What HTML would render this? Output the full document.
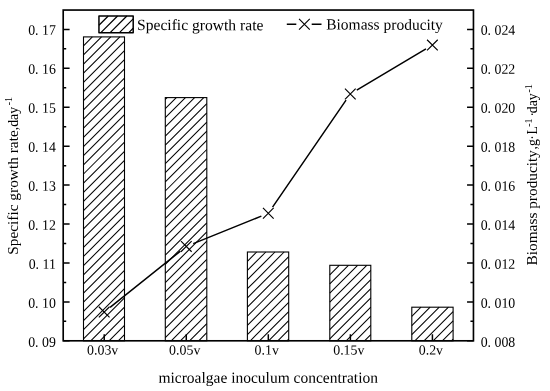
<!DOCTYPE html>
<html lang="en"><head><meta charset="utf-8"><title>Chart</title>
<style>html,body{margin:0;padding:0;background:#fff}body{width:550px;height:391px;overflow:hidden}</style></head>
<body>
<svg width="550" height="391" viewBox="0 0 550 391" style="display:block">
<rect x="0" y="0" width="550" height="391" fill="#fff"/>
<path d="M83.50 45.76L92.36 36.90M83.50 54.92L101.52 36.90M83.50 64.08L110.68 36.90M83.50 73.24L119.84 36.90M83.50 82.40L124.50 41.40M83.50 91.56L124.50 50.56M83.50 100.72L124.50 59.72M83.50 109.88L124.50 68.88M83.50 119.04L124.50 78.04M83.50 128.20L124.50 87.20M83.50 137.36L124.50 96.36M83.50 146.52L124.50 105.52M83.50 155.68L124.50 114.68M83.50 164.84L124.50 123.84M83.50 174.00L124.50 133.00M83.50 183.16L124.50 142.16M83.50 192.32L124.50 151.32M83.50 201.48L124.50 160.48M83.50 210.64L124.50 169.64M83.50 219.80L124.50 178.80M83.50 228.96L124.50 187.96M83.50 238.12L124.50 197.12M83.50 247.28L124.50 206.28M83.50 256.44L124.50 215.44M83.50 265.60L124.50 224.60M83.50 274.76L124.50 233.76M83.50 283.92L124.50 242.92M83.50 293.08L124.50 252.08M83.50 302.24L124.50 261.24M83.50 311.40L124.50 270.40M83.50 320.56L124.50 279.56M83.50 329.72L124.50 288.72M83.50 338.88L124.50 297.88M90.74 340.80L124.50 307.04M99.90 340.80L124.50 316.20M109.06 340.80L124.50 325.36M118.22 340.80L124.50 334.52" stroke="#000" stroke-width="1.05" fill="none"/>
<rect x="83.5" y="36.9" width="41.00" height="303.90" fill="none" stroke="#000" stroke-width="1.1"/>
<path d="M165.30 99.40L167.10 97.60M165.30 108.56L176.26 97.60M165.30 117.72L185.42 97.60M165.30 126.88L194.58 97.60M165.30 136.04L203.74 97.60M165.30 145.20L206.80 103.70M165.30 154.36L206.80 112.86M165.30 163.52L206.80 122.02M165.30 172.68L206.80 131.18M165.30 181.84L206.80 140.34M165.30 191.00L206.80 149.50M165.30 200.16L206.80 158.66M165.30 209.32L206.80 167.82M165.30 218.48L206.80 176.98M165.30 227.64L206.80 186.14M165.30 236.80L206.80 195.30M165.30 245.96L206.80 204.46M165.30 255.12L206.80 213.62M165.30 264.28L206.80 222.78M165.30 273.44L206.80 231.94M165.30 282.60L206.80 241.10M165.30 291.76L206.80 250.26M165.30 300.92L206.80 259.42M165.30 310.08L206.80 268.58M165.30 319.24L206.80 277.74M165.30 328.40L206.80 286.90M165.30 337.56L206.80 296.06M171.22 340.80L206.80 305.22M180.38 340.80L206.80 314.38M189.54 340.80L206.80 323.54M198.70 340.80L206.80 332.70" stroke="#000" stroke-width="1.05" fill="none"/>
<rect x="165.3" y="97.6" width="41.50" height="243.20" fill="none" stroke="#000" stroke-width="1.1"/>
<path d="M247.40 261.26L256.66 252.00M247.40 270.42L265.82 252.00M247.40 279.58L274.98 252.00M247.40 288.74L284.14 252.00M247.40 297.90L288.70 256.60M247.40 307.06L288.70 265.76M247.40 316.22L288.70 274.92M247.40 325.38L288.70 284.08M247.40 334.54L288.70 293.24M250.30 340.80L288.70 302.40M259.46 340.80L288.70 311.56M268.62 340.80L288.70 320.72M277.78 340.80L288.70 329.88M286.94 340.80L288.70 339.04" stroke="#000" stroke-width="1.05" fill="none"/>
<rect x="247.4" y="252.0" width="41.30" height="88.80" fill="none" stroke="#000" stroke-width="1.1"/>
<path d="M329.80 274.76L339.26 265.30M329.80 283.92L348.42 265.30M329.80 293.08L357.58 265.30M329.80 302.24L366.74 265.30M329.80 311.40L370.80 270.40M329.80 320.56L370.80 279.56M329.80 329.72L370.80 288.72M329.80 338.88L370.80 297.88M337.04 340.80L370.80 307.04M346.20 340.80L370.80 316.20M355.36 340.80L370.80 325.36M364.52 340.80L370.80 334.52" stroke="#000" stroke-width="1.05" fill="none"/>
<rect x="329.8" y="265.3" width="41.00" height="75.50" fill="none" stroke="#000" stroke-width="1.1"/>
<path d="M411.80 316.36L420.96 307.20M411.80 325.52L430.12 307.20M411.80 334.68L439.28 307.20M414.84 340.80L448.44 307.20M424.00 340.80L453.10 311.70M433.16 340.80L453.10 320.86M442.32 340.80L453.10 330.02M451.48 340.80L453.10 339.18" stroke="#000" stroke-width="1.05" fill="none"/>
<rect x="411.8" y="307.2" width="41.30" height="33.60" fill="none" stroke="#000" stroke-width="1.1"/>
<rect x="63.2" y="10.05" width="410.25" height="330.75" fill="none" stroke="#000" stroke-width="1.65"/>
<path d="M63.2 340.80h6.4M473.45 340.80h-6.4M63.2 321.34h3.0M473.45 321.34h-3.0M63.2 301.88h6.4M473.45 301.88h-6.4M63.2 282.41h3.0M473.45 282.41h-3.0M63.2 262.95h6.4M473.45 262.95h-6.4M63.2 243.49h3.0M473.45 243.49h-3.0M63.2 224.03h6.4M473.45 224.03h-6.4M63.2 204.56h3.0M473.45 204.56h-3.0M63.2 185.10h6.4M473.45 185.10h-6.4M63.2 165.64h3.0M473.45 165.64h-3.0M63.2 146.17h6.4M473.45 146.17h-6.4M63.2 126.71h3.0M473.45 126.71h-3.0M63.2 107.25h6.4M473.45 107.25h-6.4M63.2 87.79h3.0M473.45 87.79h-3.0M63.2 68.32h6.4M473.45 68.32h-6.4M63.2 48.86h3.0M473.45 48.86h-3.0M63.2 29.40h6.4M473.45 29.40h-6.4M104.22 340.8v-6.6M186.27 340.8v-6.6M268.32 340.8v-6.6M350.38 340.8v-6.6M432.42 340.8v-6.6" stroke="#000" stroke-width="1.5" fill="none"/>
<path d="M110.06 307.41L180.44 251.09M193.25 243.59L261.35 216.11M272.55 207.12L346.05 100.18M356.74 90.16L425.96 48.94" stroke="#000" stroke-width="1.5" fill="none"/>
<path d="M98.85 306.75L109.55 317.45M98.85 317.45L109.55 306.75M180.95 241.05L191.65 251.75M180.95 251.75L191.65 241.05M262.95 207.95L273.65 218.65M262.95 218.65L273.65 207.95M344.95 88.65L355.65 99.35M344.95 99.35L355.65 88.65M427.05 39.75L437.75 50.45M427.05 50.45L437.75 39.75M299.05 18.95L309.75 29.65M299.05 29.65L309.75 18.95" stroke="#000" stroke-width="1.15" fill="none"/>
<path d="M286.8 24.3H296.3M311.7 24.3H321.5" stroke="#000" stroke-width="1.5" fill="none"/>
<path d="M98.95 25.25L108.25 15.95M100.85 32.65L117.55 15.95M110.15 32.65L126.85 15.95M119.45 32.65L133.20 18.90M128.75 32.65L133.20 28.20" stroke="#000" stroke-width="1.25" fill="none"/>
<rect x="98.95" y="15.95" width="34.25" height="16.70" fill="none" stroke="#000" stroke-width="1.5" stroke-linejoin="round"/>
<g style="font-family:'Liberation Serif','Noto Serif CJK SC',serif" fill="#000">
<text transform="translate(137.00 30.10) rotate(0.03)" font-size="15.6">Specific growth rate</text>
<text transform="translate(326.20 29.60) rotate(0.03)" font-size="15.5">Biomass producity</text>
<text transform="translate(268.20 382.80) rotate(0.03)" font-size="15.5" text-anchor="middle">microalgae inoculum concentration</text>
<text transform="translate(102.67 354.50) rotate(0.03)" font-size="13.9" text-anchor="middle">0.03v</text>
<text transform="translate(184.72 354.50) rotate(0.03)" font-size="13.9" text-anchor="middle">0.05v</text>
<text transform="translate(266.77 354.50) rotate(0.03)" font-size="13.9" text-anchor="middle">0.1v</text>
<text transform="translate(348.82 354.50) rotate(0.03)" font-size="13.9" text-anchor="middle">0.15v</text>
<text transform="translate(430.87 354.50) rotate(0.03)" font-size="13.9" text-anchor="middle">0.2v</text>
<text transform="translate(55.80 346.65) rotate(0.03) scale(0.955 1)" font-size="14.5" text-anchor="end">0. 09</text>
<text transform="translate(480.70 346.65) rotate(0.03) scale(0.955 1)" font-size="14.5">0. 008</text>
<text transform="translate(55.80 307.66) rotate(0.03) scale(0.955 1)" font-size="14.5" text-anchor="end">0. 10</text>
<text transform="translate(480.70 307.66) rotate(0.03) scale(0.955 1)" font-size="14.5">0. 010</text>
<text transform="translate(55.80 268.68) rotate(0.03) scale(0.955 1)" font-size="14.5" text-anchor="end">0. 11</text>
<text transform="translate(480.70 268.68) rotate(0.03) scale(0.955 1)" font-size="14.5">0. 012</text>
<text transform="translate(55.80 229.69) rotate(0.03) scale(0.955 1)" font-size="14.5" text-anchor="end">0. 12</text>
<text transform="translate(480.70 229.69) rotate(0.03) scale(0.955 1)" font-size="14.5">0. 014</text>
<text transform="translate(55.80 190.70) rotate(0.03) scale(0.955 1)" font-size="14.5" text-anchor="end">0. 13</text>
<text transform="translate(480.70 190.70) rotate(0.03) scale(0.955 1)" font-size="14.5">0. 016</text>
<text transform="translate(55.80 151.71) rotate(0.03) scale(0.955 1)" font-size="14.5" text-anchor="end">0. 14</text>
<text transform="translate(480.70 151.71) rotate(0.03) scale(0.955 1)" font-size="14.5">0. 018</text>
<text transform="translate(55.80 112.72) rotate(0.03) scale(0.955 1)" font-size="14.5" text-anchor="end">0. 15</text>
<text transform="translate(480.70 112.72) rotate(0.03) scale(0.955 1)" font-size="14.5">0. 020</text>
<text transform="translate(55.80 73.74) rotate(0.03) scale(0.955 1)" font-size="14.5" text-anchor="end">0. 16</text>
<text transform="translate(480.70 73.74) rotate(0.03) scale(0.955 1)" font-size="14.5">0. 022</text>
<text transform="translate(55.80 34.75) rotate(0.03) scale(0.955 1)" font-size="14.5" text-anchor="end">0. 17</text>
<text transform="translate(480.70 34.75) rotate(0.03) scale(0.955 1)" font-size="14.5">0. 024</text>
<text transform="translate(17.5 254.8) rotate(-90)" font-size="15.37">Specific growth rate<tspan font-size="13.8">,day</tspan><tspan font-size="10" dy="-5.6" dx="1.6">-1</tspan></text>
<text transform="translate(537.3 265.5) rotate(-90)" font-size="15.35">Biomass producity<tspan x="116.0" font-size="13.8" dy="0">,g</tspan><tspan x="125.8" font-size="13.8" dy="0">·</tspan><tspan x="130.9" font-size="13.8" dy="0">L</tspan><tspan x="138.7" font-size="10" dy="-5.6">-1</tspan><tspan x="149.0" font-size="13.8" dy="5.6">·</tspan><tspan x="152.3" font-size="13.8" dy="0">day</tspan><tspan x="173.0" font-size="10" dy="-5.6">-1</tspan></text>
</g>
</svg>
</body></html>
